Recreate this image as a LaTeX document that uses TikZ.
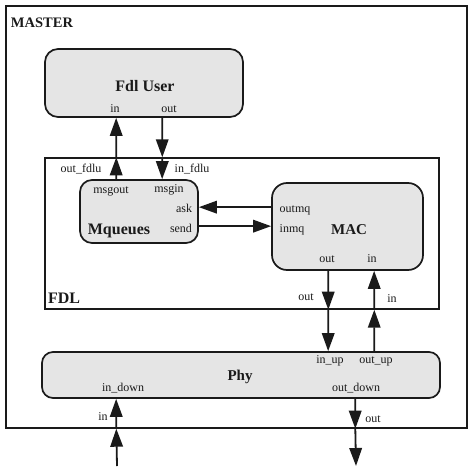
\documentclass[tikz,border=0pt]{standalone}
\usepackage{fontspec}
\setmainfont{Liberation Serif}
\usetikzlibrary{arrows.meta}
\definecolor{boxfill}{HTML}{E5E5E5}
\definecolor{ink}{HTML}{1A1A1A}
\begin{document}
\begin{tikzpicture}[x=1pt,y=-1pt,
  clusterbox/.style={draw=ink,line width=1.4pt,inner sep=0pt},
  block/.style={draw=ink,fill=boxfill,line width=1.7pt,inner sep=0pt},
  port/.style={font=\fontsize{12}{14}\selectfont,inner sep=0pt,anchor=base,text=ink},
  title/.style={font=\fontsize{16}{18}\selectfont\bfseries,inner sep=0pt,anchor=base,text=ink},
  arr/.style={draw=ink,line width=1.8pt,-{Triangle[length=18pt,width=12.5pt]}}]
\useasboundingbox (0,0) rectangle (474,466);
% clusters
\node[clusterbox,minimum width=461pt,minimum height=422pt] (master) at (236.5,217) {};
\node[clusterbox,minimum width=394pt,minimum height=151pt] (fdl) at (242,233.5) {};
% blocks
\node[block,rounded corners=13pt,minimum width=198pt,minimum height=68pt] (fdlu) at (144,83) {};
\node[block,rounded corners=12pt,minimum width=118pt,minimum height=63pt] (mq) at (139,211.5) {};
\node[block,rounded corners=15pt,minimum width=151pt,minimum height=87pt] (mac) at (347.5,226.5) {};
\node[block,rounded corners=11pt,minimum width=398pt,minimum height=46pt] (phy) at (241,375) {};
% port coordinates
\path (fdlu.south west) ++(72,0) coordinate (fdlu-in);
\path (fdlu.south west) ++(118,0) coordinate (fdlu-out);
\path (fdl.north west) ++(72,0) coordinate (fdl-outfdlu);
\path (fdl.north west) ++(118,0) coordinate (fdl-infdlu);
\path (mq.north west) ++(37,0) coordinate (mq-msgout);
\path (mq.north west) ++(83,0) coordinate (mq-msgin);
\path (mq.north east) ++(0,28) coordinate (mq-ask);
\path (mq.north east) ++(0,47) coordinate (mq-send);
\path (mac.north west) ++(0,25) coordinate (mac-outmq);
\path (mac.north west) ++(0,44) coordinate (mac-inmq);
\path (mac.south west) ++(57,0) coordinate (mac-out);
\path (mac.south west) ++(103,0) coordinate (mac-in);
\path (fdl.south west) ++(284,0) coordinate (fdl-out);
\path (fdl.south west) ++(330,0) coordinate (fdl-in);
\path (phy.north west) ++(287,0) coordinate (phy-inup);
\path (phy.north west) ++(333,0) coordinate (phy-outup);
\path (phy.south west) ++(75,0) coordinate (phy-indown);
\path (phy.south west) ++(314,0) coordinate (phy-outdown);
\path (master.south west) ++(111,0) coordinate (master-in);
\path (master.south west) ++(350,0) coordinate (master-out);
\coordinate (ext-in) at (117,466);
\coordinate (ext-out) at (356,466);
% connectors
\draw[arr] (mq-msgout) -- (fdl-outfdlu);
\draw[arr] (fdl-outfdlu) -- (fdlu-in);
\draw[arr] (fdlu-out) -- (fdl-infdlu);
\draw[arr] (fdl-infdlu) -- (mq-msgin);
\draw[arr] (mac-outmq) -- (mq-ask);
\draw[arr] (mq-send) -- (mac-inmq);
\draw[arr] (mac-out) -- (fdl-out);
\draw[arr] (fdl-out) -- (phy-inup);
\draw[arr] (phy-outup) -- (fdl-in);
\draw[arr] (fdl-in) -- (mac-in);
\draw[arr] (ext-in) -- (master-in);
\draw[arr] (master-in) -- (phy-indown);
\draw[arr] (phy-outdown) -- (master-out);
\draw[arr] (master-out) -- (ext-out);
% titles
\node[title,font=\fontsize{14.5}{16}\selectfont\bfseries] (t-master) at (42,27) {MASTER};
\node[title] (t-fdl) at (64,303) {FDL};
\node[title] (t-fdlu) at (145,91) {Fdl User};
\node[title] (t-mq) at (119,234) {Mqueues};
\node[title,font=\fontsize{15}{17}\selectfont\bfseries] (t-mac) at (349,234) {MAC};
\node[title,font=\fontsize{15}{17}\selectfont\bfseries] (t-phy) at (240,380) {Phy};
% port labels
\node[port] (l-fin) at (115,112) {in};
\node[port] (l-fout) at (169,112) {out};
\node[port] (l-outfdlu) at (81,172) {out\_fdlu};
\node[port] (l-infdlu) at (192,172) {in\_fdlu};
\node[port] (l-msgout) at (111,193) {msgout};
\node[port] (l-msgin) at (169,192) {msgin};
\node[port] (l-ask) at (184,212) {ask};
\node[port] (l-send) at (181,232) {send};
\node[port] (l-outmq) at (295,212) {outmq};
\node[port] (l-inmq) at (292,232) {inmq};
\node[port] (l-macout) at (327,262) {out};
\node[port] (l-macin) at (372,262) {in};
\node[port] (l-eout) at (306,300) {out};
\node[port] (l-ein) at (392,302) {in};
\node[port] (l-inup) at (330,363) {in\_up};
\node[port] (l-outup) at (376,363) {out\_up};
\node[port] (l-indown) at (123,391) {in\_down};
\node[port] (l-outdown) at (356,391) {out\_down};
\node[port] (l-bin) at (103,420) {in};
\node[port] (l-bout) at (373,422) {out};
\end{tikzpicture}
\end{document}
